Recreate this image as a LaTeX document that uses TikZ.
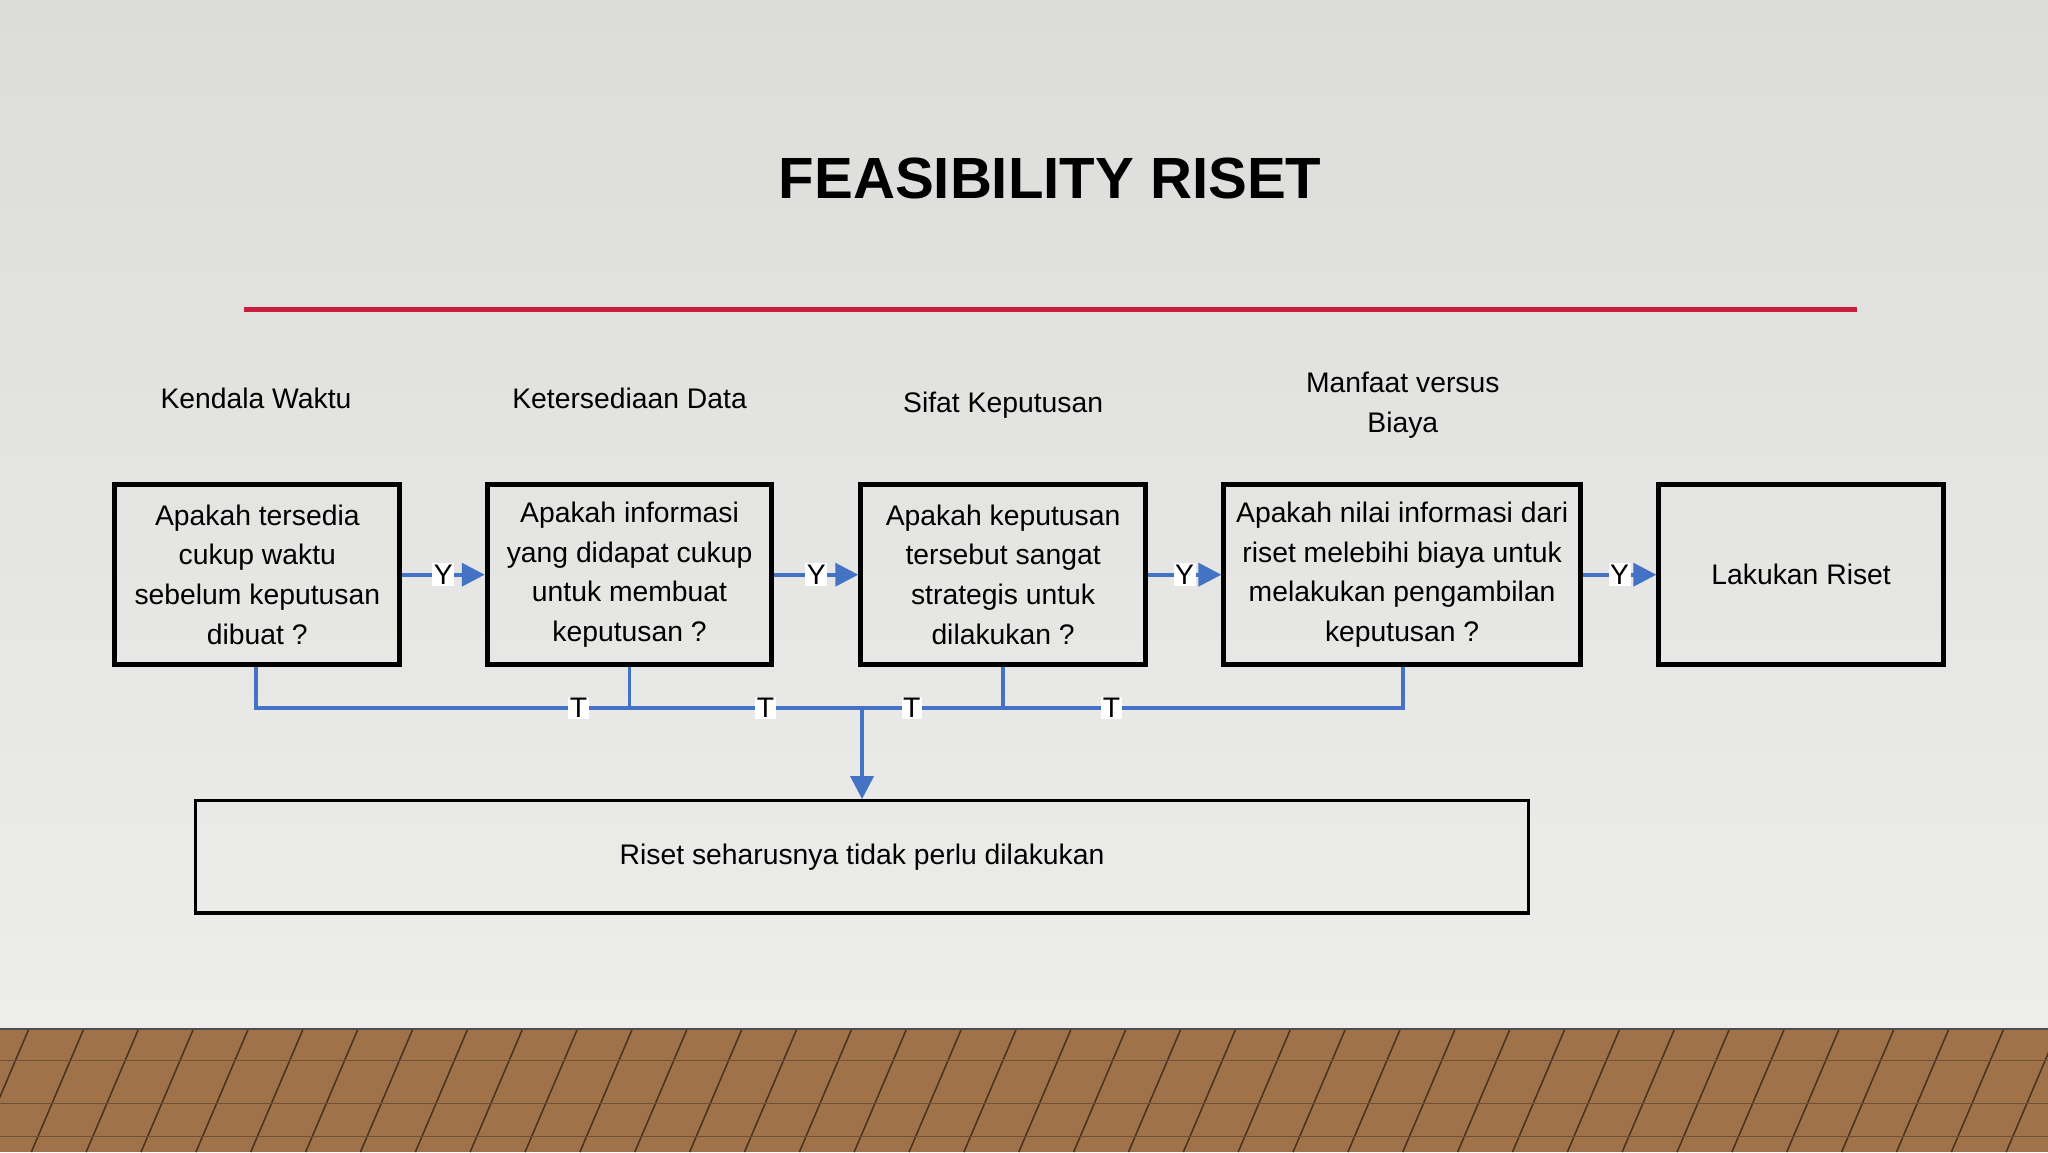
\documentclass[tikz,border=0pt]{standalone}
\usepackage{fontspec}
\setmainfont{Liberation Sans}
\usetikzlibrary{arrows.meta,positioning}
\definecolor{blu}{HTML}{4472C4}
\definecolor{redl}{HTML}{C8203C}
\definecolor{wood}{HTML}{A0724A}
\definecolor{bgtop}{HTML}{DCDCDA}
\definecolor{bgbot}{HTML}{EDEDEB}
\begin{document}
\begin{tikzpicture}[x=0.03cm,y=-0.03cm,
  qbox/.style={draw,line width=3.2pt,minimum width=6.54cm,minimum height=4.14cm,align=center,inner sep=2pt,font=\fontsize{18.5}{26}\selectfont},
  hdr/.style={align=center,font=\fontsize{18.5}{26}\selectfont},
  lbl/.style={fill=white,text=black,inner sep=1pt,font=\fontsize{18.5}{20}\selectfont},
  conn/.style={blu,line width=2.4pt},
  arr/.style={conn,-{Triangle[length=15pt,width=15pt]}}]
\useasboundingbox (0,0) rectangle (1568,882);
\shade[top color=bgtop,bottom color=bgbot] (0,0) rectangle (1568,788);
\fill[wood] (0,788) rectangle (1568,882);
\foreach \i in {0,...,40}{
  \draw[wood!45!black,line width=1pt] ({\i*42-60},882) -- ({\i*42-20},788);
}
\foreach \yy in {812,845,870}{\draw[wood!70!black,line width=0.6pt] (0,\yy) -- (1568,\yy);}
\draw[black!70,line width=1.5pt] (0,788) -- (1568,788);
\node[font=\fontsize{38}{40}\selectfont\bfseries] (title) at (804,137) {FEASIBILITY RISET};
\coordinate (ra) at (187,237); \coordinate (rb) at (1422,237);
\draw[redl,line width=2.8pt] (ra) -- (rb);
\node[hdr] (h1) at (196,305) {Kendala Waktu};
\node[hdr] (h2) at (482,305) {Ketersediaan Data};
\node[hdr] (h3) at (768,310) {Sifat Keputusan};
\node[hdr] (h4) at (1074,310) {Manfaat versus\\Biaya};
\node[qbox] (b1) at (197,440) {Apakah tersedia\\cukup waktu\\sebelum keputusan\\dibuat ?};
\node[qbox] (b2) at (482,440) {Apakah informasi\\yang didapat cukup\\untuk membuat\\keputusan ?};
\node[qbox] (b3) at (768,440) {Apakah keputusan\\tersebut sangat\\strategis untuk\\dilakukan ?};
\node[qbox,minimum width=8.19cm] (b4) at (1073.5,440) {Apakah nilai informasi dari\\riset melebihi biaya untuk\\melakukan pengambilan\\keputusan ?};
\node[qbox] (b5) at (1379,440) {Lakukan Riset};
\node[draw,line width=2pt,minimum width=30.6cm,minimum height=2.58cm,font=\fontsize{18.5}{26}\selectfont] (bt) at (660,656) {Riset seharusnya tidak perlu dilakukan};
\foreach \a/\b in {b1/b2,b2/b3,b3/b4,b4/b5}{
  \draw[arr] (\a.east) -- node[lbl,pos=0.5]{Y} (\b.west);
}
\coordinate (c1) at (196,542); \coordinate (c4) at (1074,542);
\coordinate (c2) at (482,542); \coordinate (c3) at (768,542);
\coordinate (cm) at (660,542);
\draw[conn] (b1.south -| c1) -- (c1) -- (c4) -- (b4.south -| c4);
\draw[conn] (b2.south -| c2) -- (c2);
\draw[conn] (b3.south -| c3) -- (c3);
\draw[arr] (cm) -- (bt.north -| cm);
\node[lbl] (t1) at (443,542) {T};
\node[lbl] (t2) at (586,542) {T};
\node[lbl] (t3) at (698,542) {T};
\node[lbl] (t4) at (851,542) {T};
\end{tikzpicture}
\end{document}
